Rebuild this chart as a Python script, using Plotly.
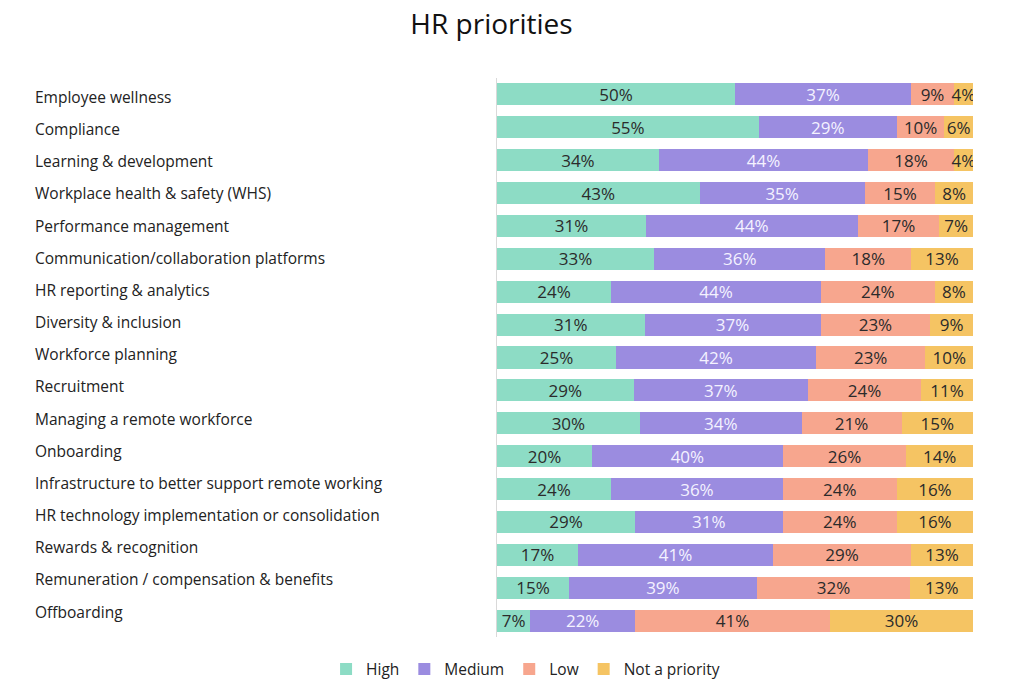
import plotly.graph_objects as go

categories = [
    "Employee wellness", "Compliance", "Learning & development",
    "Workplace health & safety (WHS)", "Performance management",
    "Communication/collaboration platforms", "HR reporting & analytics",
    "Diversity & inclusion", "Workforce planning", "Recruitment",
    "Managing a remote workforce", "Onboarding",
    "Infrastructure to better support remote working",
    "HR technology implementation or consolidation",
    "Rewards & recognition", "Remuneration / compensation & benefits",
    "Offboarding",
]
high = [50, 55, 34, 43, 31, 33, 24, 31, 25, 29, 30, 20, 24, 29, 17, 15, 7]
medium = [37, 29, 44, 35, 44, 36, 44, 37, 42, 37, 34, 40, 36, 31, 41, 39, 22]
low = [9, 10, 18, 15, 17, 18, 24, 23, 23, 24, 21, 26, 24, 24, 29, 32, 41]
not_priority = [4, 6, 4, 8, 7, 13, 8, 9, 10, 11, 15, 14, 16, 16, 13, 13, 30]

series = [
    ("High", high, "#8DDCC5", "#2b2b2b"),
    ("Medium", medium, "#9B8CE0", "#f4f2ff"),
    ("Low", low, "#F7A68E", "#2b2b2b"),
    ("Not a priority", not_priority, "#F5C463", "#2b2b2b"),
]

FONT = "Open Sans"
fig = go.Figure()
for name, vals, color, tcolor in series:
    fig.add_trace(go.Bar(
        name=name, y=categories, x=vals, orientation="h",
        marker=dict(color=color, line=dict(width=0)),
        text=[f"{v}%" for v in vals], textposition="inside",
        insidetextanchor="middle", textangle=0,
        textfont=dict(family=FONT, size=17, color=tcolor),
        width=0.67,
    ))

# invisible helper axis carrying the left-aligned category labels
fig.add_trace(go.Scatter(x=[0] * len(categories), y=categories, yaxis="y2",
                         mode="markers", marker=dict(opacity=0),
                         showlegend=False, hoverinfo="skip"))
for c in categories:
    fig.add_annotation(text=c, x=-0.975, xref="paper", y=c, yref="y2",
                       xanchor="left", yanchor="middle", showarrow=False,
                       font=dict(family=FONT, size=15.5, color="#222222"))

fig.update_layout(
    barmode="stack", barnorm="percent",
    width=1024, height=699,
    margin=dict(l=497, r=51, t=78, b=62),
    paper_bgcolor="white", plot_bgcolor="white",
    title=dict(text="HR priorities", x=0.48, xref="container", xanchor="center",
               y=0.965, yref="container", yanchor="middle",
               font=dict(family=FONT, size=28, color="#111111")),
    xaxis=dict(range=[0, 100], visible=False, fixedrange=True),
    yaxis=dict(range=[16.5, -0.5], showticklabels=False, ticks="",
               showline=True, linecolor="#d9d9d9", linewidth=1,
               showgrid=False, zeroline=False),
    yaxis2=dict(range=[16.79, -0.59], overlaying="y", visible=False),
    legend=dict(orientation="h", x=0.06, xanchor="center", y=-0.058,
                yanchor="middle", xref="paper",
                font=dict(family=FONT, size=15.5, color="#222222"),
                traceorder="normal", itemwidth=30),
    uniformtext=dict(minsize=17, mode="show"),
    showlegend=True,
)
fig.write_html("out.html")
